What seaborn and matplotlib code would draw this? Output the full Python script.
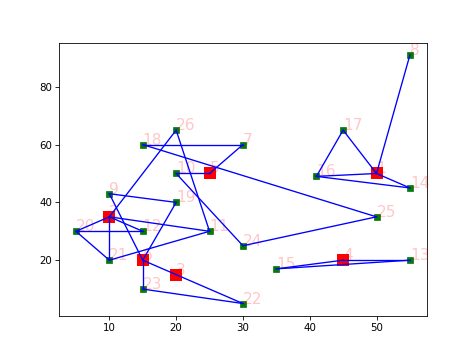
import numpy as np
import matplotlib
matplotlib.use("Agg")
import matplotlib.pyplot as plt
import seaborn as sns

# Node ids and coordinates
node_ids = list(range(1, 27))
x = [50, 10, 20, 45, 25, 15, 30, 55, 10, 20, 25, 15, 55,
     55, 35, 41, 45, 15, 20, 5, 10, 30, 15, 30, 50, 20]
y = [50, 35, 15, 20, 50, 20, 60, 91, 43, 50, 30, 30, 20,
     45, 17, 49, 65, 60, 40, 30, 20, 5, 10, 25, 35, 65]

# Depot nodes (drawn as big red squares)
depots = [1, 2, 3, 4, 5, 6]

# Route edges as pairs of node ids
edges = [(1, 8), (1, 17), (17, 16), (16, 1), (16, 14), (14, 1),
         (15, 4), (4, 13), (13, 15),
         (5, 7), (7, 18), (18, 25), (25, 24), (24, 10), (10, 5),
         (26, 11), (26, 2),
         (2, 20), (20, 12), (20, 21), (21, 2), (2, 12), (2, 11), (21, 11),
         (9, 19), (9, 6), (19, 6), (6, 23), (23, 22), (22, 3), (3, 6)]

x = np.array(x)
y = np.array(y)
pos = {n: i for i, n in enumerate(node_ids)}

fig, ax = plt.subplots(figsize=(474 / 74, 355 / 74), dpi=74)

# all nodes
sns.scatterplot(x=x, y=y, marker="s", color="green", edgecolor="darkgreen",
                s=28, linewidth=0.6, ax=ax, zorder=2)

# labels
for n in node_ids:
    i = pos[n]
    ax.text(x[i], y[i], str(n), color="red", alpha=0.22, fontsize=15, zorder=3)

# depots
d_idx = [pos[d] for d in depots]
sns.scatterplot(x=x[d_idx], y=y[d_idx], marker="s", color="red", edgecolor="red",
                s=120, linewidth=0, ax=ax, zorder=4)

# routes
for a, b in edges:
    ia, ib = pos[a], pos[b]
    ax.plot([x[ia], x[ib]], [y[ia], y[ib]], color="blue", lw=1.3, zorder=5)

ax.set_xticks([10, 20, 30, 40, 50])
ax.set_yticks([20, 40, 60, 80])

plt.savefig("out.png", dpi=74)
plt.close()
